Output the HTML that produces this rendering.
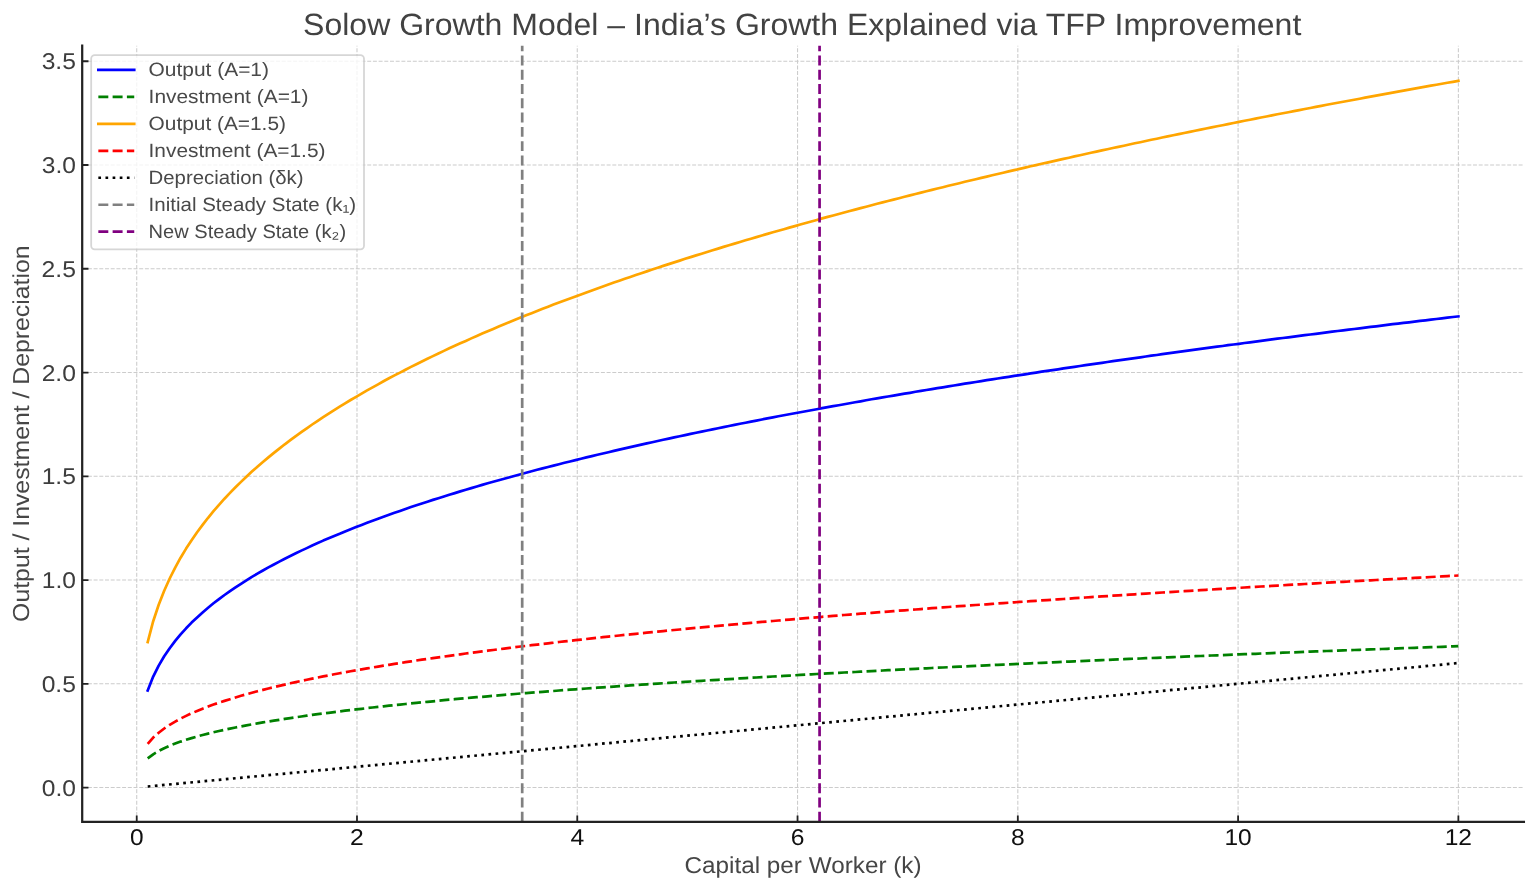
<!DOCTYPE html>
<html><head><meta charset="utf-8"><title>Solow Growth Model</title>
<style>html,body{margin:0;padding:0;background:#fff;width:1536px;height:891px;overflow:hidden}svg{display:block;will-change:transform}</style>
</head><body>
<svg width="1536" height="891" viewBox="0 0 1536 891">
<rect width="1536" height="891" fill="#fff"/>
<defs><clipPath id="ax"><rect x="82.2" y="45.5" width="1441.7" height="776.3"/></clipPath></defs>
<path d="M136.72 821.8V45.5M356.99 821.8V45.5M577.27 821.8V45.5M797.54 821.8V45.5M1017.82 821.8V45.5M1238.09 821.8V45.5M1458.37 821.8V45.5M82.2 787.55H1523.9M82.2 683.79H1523.9M82.2 580.03H1523.9M82.2 476.28H1523.9M82.2 372.52H1523.9M82.2 268.76H1523.9M82.2 165H1523.9M82.2 61.24H1523.9" fill="none" stroke="#cccccc" stroke-width="1.08" stroke-dasharray="3.98 1.72" clip-path="url(#ax)"/>
<path d="M136.72 821.8v-6.28M356.99 821.8v-6.28M577.27 821.8v-6.28M797.54 821.8v-6.28M1017.82 821.8v-6.28M1238.09 821.8v-6.28M1458.37 821.8v-6.28M82.2 787.55h6.28M82.2 683.79h6.28M82.2 580.03h6.28M82.2 476.28h6.28M82.2 372.52h6.28M82.2 268.76h6.28M82.2 165h6.28M82.2 61.24h6.28" fill="none" stroke="#222222" stroke-width="1.79"/>
<g fill="none" stroke-width="2.69" clip-path="url(#ax)">
<path d="M147.7 690.5 153.2 676.6 158.7 665.6 164.2 656.3 169.7 648.2 175.2 640.9 180.6 634.3 186.1 628.3 191.6 622.6 197.1 617.4 202.6 612.4 208.1 607.7 213.5 603.3 219.0 599.1 224.5 595.0 230.0 591.1 235.5 587.4 241.0 583.8 246.4 580.3 251.9 576.9 257.4 573.7 262.9 570.5 268.4 567.4 273.9 564.5 279.3 561.6 284.8 558.7 290.3 556.0 295.8 553.3 301.3 550.6 306.8 548.1 312.2 545.5 317.7 543.1 323.2 540.6 328.7 538.3 334.2 535.9 339.7 533.7 345.1 531.4 350.6 529.2 356.1 527.0 361.6 524.9 367.1 522.8 372.6 520.8 378.1 518.7 383.5 516.7 389.0 514.7 394.5 512.8 400.0 510.9 405.5 509.0 411.0 507.1 416.4 505.3 421.9 503.5 427.4 501.7 432.9 499.9 438.4 498.2 443.9 496.5 449.3 494.7 454.8 493.1 460.3 491.4 465.8 489.8 471.3 488.1 476.8 486.5 482.2 484.9 487.7 483.3 493.2 481.8 498.7 480.2 504.2 478.7 509.7 477.2 515.1 475.7 520.6 474.2 526.1 472.7 531.6 471.3 537.1 469.8 542.6 468.4 548.1 467.0 553.5 465.6 559.0 464.2 564.5 462.8 570.0 461.5 575.5 460.1 581.0 458.8 586.4 457.4 591.9 456.1 597.4 454.8 602.9 453.5 608.4 452.2 613.9 450.9 619.3 449.6 624.8 448.4 630.3 447.1 635.8 445.9 641.3 444.6 646.8 443.4 652.2 442.2 657.7 441.0 663.2 439.8 668.7 438.6 674.2 437.4 679.7 436.2 685.1 435.1 690.6 433.9 696.1 432.8 701.6 431.6 707.1 430.5 712.6 429.4 718.1 428.2 723.5 427.1 729.0 426.0 734.5 424.9 740.0 423.8 745.5 422.7 751.0 421.6 756.4 420.6 761.9 419.5 767.4 418.4 772.9 417.4 778.4 416.3 783.9 415.3 789.3 414.3 794.8 413.2 800.3 412.2 805.8 411.2 811.3 410.2 816.8 409.2 822.2 408.1 827.7 407.1 833.2 406.2 838.7 405.2 844.2 404.2 849.7 403.2 855.1 402.2 860.6 401.3 866.1 400.3 871.6 399.3 877.1 398.4 882.6 397.4 888.0 396.5 893.5 395.6 899.0 394.6 904.5 393.7 910.0 392.8 915.5 391.8 921.0 390.9 926.4 390.0 931.9 389.1 937.4 388.2 942.9 387.3 948.4 386.4 953.9 385.5 959.3 384.6 964.8 383.7 970.3 382.9 975.8 382.0 981.3 381.1 986.8 380.2 992.2 379.4 997.7 378.5 1003.2 377.7 1008.7 376.8 1014.2 375.9 1019.7 375.1 1025.1 374.3 1030.6 373.4 1036.1 372.6 1041.6 371.7 1047.1 370.9 1052.6 370.1 1058.0 369.3 1063.5 368.4 1069.0 367.6 1074.5 366.8 1080.0 366.0 1085.5 365.2 1091.0 364.4 1096.4 363.6 1101.9 362.8 1107.4 362.0 1112.9 361.2 1118.4 360.4 1123.9 359.6 1129.3 358.9 1134.8 358.1 1140.3 357.3 1145.8 356.5 1151.3 355.7 1156.8 355.0 1162.2 354.2 1167.7 353.4 1173.2 352.7 1178.7 351.9 1184.2 351.2 1189.7 350.4 1195.1 349.7 1200.6 348.9 1206.1 348.2 1211.6 347.4 1217.1 346.7 1222.6 346.0 1228.0 345.2 1233.5 344.5 1239.0 343.8 1244.5 343.0 1250.0 342.3 1255.5 341.6 1261.0 340.9 1266.4 340.2 1271.9 339.4 1277.4 338.7 1282.9 338.0 1288.4 337.3 1293.9 336.6 1299.3 335.9 1304.8 335.2 1310.3 334.5 1315.8 333.8 1321.3 333.1 1326.8 332.4 1332.2 331.7 1337.7 331.0 1343.2 330.3 1348.7 329.7 1354.2 329.0 1359.7 328.3 1365.1 327.6 1370.6 326.9 1376.1 326.3 1381.6 325.6 1387.1 324.9 1392.6 324.2 1398.0 323.6 1403.5 322.9 1409.0 322.3 1414.5 321.6 1420.0 320.9 1425.5 320.3 1430.9 319.6 1436.4 319.0 1441.9 318.3 1447.4 317.7 1452.9 317.0 1458.4 316.4" stroke="#0000ff" stroke-linecap="square" stroke-linejoin="round"/>
<path d="M147.7 758.4 153.2 754.3 158.7 751.0 164.2 748.2 169.7 745.7 175.2 743.6 180.6 741.6 186.1 739.8 191.6 738.1 197.1 736.5 202.6 735.0 208.1 733.6 213.5 732.3 219.0 731.0 224.5 729.8 230.0 728.6 235.5 727.5 241.0 726.4 246.4 725.4 251.9 724.4 257.4 723.4 262.9 722.4 268.4 721.5 273.9 720.6 279.3 719.8 284.8 718.9 290.3 718.1 295.8 717.3 301.3 716.5 306.8 715.7 312.2 714.9 317.7 714.2 323.2 713.5 328.7 712.8 334.2 712.1 339.7 711.4 345.1 710.7 350.6 710.0 356.1 709.4 361.6 708.8 367.1 708.1 372.6 707.5 378.1 706.9 383.5 706.3 389.0 705.7 394.5 705.1 400.0 704.6 405.5 704.0 411.0 703.4 416.4 702.9 421.9 702.3 427.4 701.8 432.9 701.3 438.4 700.7 443.9 700.2 449.3 699.7 454.8 699.2 460.3 698.7 465.8 698.2 471.3 697.7 476.8 697.2 482.2 696.8 487.7 696.3 493.2 695.8 498.7 695.4 504.2 694.9 509.7 694.4 515.1 694.0 520.6 693.5 526.1 693.1 531.6 692.7 537.1 692.2 542.6 691.8 548.1 691.4 553.5 691.0 559.0 690.5 564.5 690.1 570.0 689.7 575.5 689.3 581.0 688.9 586.4 688.5 591.9 688.1 597.4 687.7 602.9 687.3 608.4 686.9 613.9 686.6 619.3 686.2 624.8 685.8 630.3 685.4 635.8 685.0 641.3 684.7 646.8 684.3 652.2 683.9 657.7 683.6 663.2 683.2 668.7 682.9 674.2 682.5 679.7 682.2 685.1 681.8 690.6 681.5 696.1 681.1 701.6 680.8 707.1 680.4 712.6 680.1 718.1 679.8 723.5 679.4 729.0 679.1 734.5 678.8 740.0 678.4 745.5 678.1 751.0 677.8 756.4 677.5 761.9 677.1 767.4 676.8 772.9 676.5 778.4 676.2 783.9 675.9 789.3 675.6 794.8 675.3 800.3 674.9 805.8 674.6 811.3 674.3 816.8 674.0 822.2 673.7 827.7 673.4 833.2 673.1 838.7 672.8 844.2 672.5 849.7 672.2 855.1 672.0 860.6 671.7 866.1 671.4 871.6 671.1 877.1 670.8 882.6 670.5 888.0 670.2 893.5 670.0 899.0 669.7 904.5 669.4 910.0 669.1 915.5 668.8 921.0 668.6 926.4 668.3 931.9 668.0 937.4 667.7 942.9 667.5 948.4 667.2 953.9 666.9 959.3 666.7 964.8 666.4 970.3 666.1 975.8 665.9 981.3 665.6 986.8 665.4 992.2 665.1 997.7 664.8 1003.2 664.6 1008.7 664.3 1014.2 664.1 1019.7 663.8 1025.1 663.6 1030.6 663.3 1036.1 663.1 1041.6 662.8 1047.1 662.6 1052.6 662.3 1058.0 662.1 1063.5 661.8 1069.0 661.6 1074.5 661.3 1080.0 661.1 1085.5 660.8 1091.0 660.6 1096.4 660.4 1101.9 660.1 1107.4 659.9 1112.9 659.6 1118.4 659.4 1123.9 659.2 1129.3 658.9 1134.8 658.7 1140.3 658.5 1145.8 658.2 1151.3 658.0 1156.8 657.8 1162.2 657.5 1167.7 657.3 1173.2 657.1 1178.7 656.9 1184.2 656.6 1189.7 656.4 1195.1 656.2 1200.6 656.0 1206.1 655.7 1211.6 655.5 1217.1 655.3 1222.6 655.1 1228.0 654.9 1233.5 654.6 1239.0 654.4 1244.5 654.2 1250.0 654.0 1255.5 653.8 1261.0 653.5 1266.4 653.3 1271.9 653.1 1277.4 652.9 1282.9 652.7 1288.4 652.5 1293.9 652.3 1299.3 652.1 1304.8 651.8 1310.3 651.6 1315.8 651.4 1321.3 651.2 1326.8 651.0 1332.2 650.8 1337.7 650.6 1343.2 650.4 1348.7 650.2 1354.2 650.0 1359.7 649.8 1365.1 649.6 1370.6 649.4 1376.1 649.2 1381.6 649.0 1387.1 648.8 1392.6 648.6 1398.0 648.4 1403.5 648.2 1409.0 648.0 1414.5 647.8 1420.0 647.6 1425.5 647.4 1430.9 647.2 1436.4 647.0 1441.9 646.8 1447.4 646.6 1452.9 646.4 1458.4 646.2" stroke="#008000" stroke-dasharray="9.96 4.31" stroke-linejoin="round"/>
<path d="M147.7 642.0 153.2 621.2 158.7 604.7 164.2 590.7 169.7 578.5 175.2 567.6 180.6 557.7 186.1 548.6 191.6 540.2 197.1 532.3 202.6 524.9 208.1 517.8 213.5 511.2 219.0 504.8 224.5 498.7 230.0 492.9 235.5 487.3 241.0 481.9 246.4 476.7 251.9 471.6 257.4 466.7 262.9 462.0 268.4 457.4 273.9 452.9 279.3 448.6 284.8 444.3 290.3 440.2 295.8 436.1 301.3 432.2 306.8 428.3 312.2 424.5 317.7 420.8 323.2 417.2 328.7 413.6 334.2 410.1 339.7 406.7 345.1 403.3 350.6 400.0 356.1 396.8 361.6 393.6 367.1 390.4 372.6 387.4 378.1 384.3 383.5 381.3 389.0 378.3 394.5 375.4 400.0 372.6 405.5 369.7 411.0 366.9 416.4 364.2 421.9 361.5 427.4 358.8 432.9 356.1 438.4 353.5 443.9 350.9 449.3 348.3 454.8 345.8 460.3 343.3 465.8 340.9 471.3 338.4 476.8 336.0 482.2 333.6 487.7 331.2 493.2 328.9 498.7 326.6 504.2 324.3 509.7 322.0 515.1 319.8 520.6 317.5 526.1 315.3 531.6 313.2 537.1 311.0 542.6 308.8 548.1 306.7 553.5 304.6 559.0 302.5 564.5 300.5 570.0 298.4 575.5 296.4 581.0 294.4 586.4 292.4 591.9 290.4 597.4 288.4 602.9 286.4 608.4 284.5 613.9 282.6 619.3 280.7 624.8 278.8 630.3 276.9 635.8 275.0 641.3 273.2 646.8 271.4 652.2 269.5 657.7 267.7 663.2 265.9 668.7 264.1 674.2 262.4 679.7 260.6 685.1 258.8 690.6 257.1 696.1 255.4 701.6 253.7 707.1 252.0 712.6 250.3 718.1 248.6 723.5 246.9 729.0 245.2 734.5 243.6 740.0 242.0 745.5 240.3 751.0 238.7 756.4 237.1 761.9 235.5 767.4 233.9 772.9 232.3 778.4 230.7 783.9 229.2 789.3 227.6 794.8 226.1 800.3 224.5 805.8 223.0 811.3 221.5 816.8 220.0 822.2 218.4 827.7 216.9 833.2 215.5 838.7 214.0 844.2 212.5 849.7 211.0 855.1 209.6 860.6 208.1 866.1 206.7 871.6 205.2 877.1 203.8 882.6 202.4 888.0 201.0 893.5 199.6 899.0 198.2 904.5 196.8 910.0 195.4 915.5 194.0 921.0 192.6 926.4 191.2 931.9 189.9 937.4 188.5 942.9 187.2 948.4 185.8 953.9 184.5 959.3 183.2 964.8 181.8 970.3 180.5 975.8 179.2 981.3 177.9 986.8 176.6 992.2 175.3 997.7 174.0 1003.2 172.7 1008.7 171.4 1014.2 170.1 1019.7 168.9 1025.1 167.6 1030.6 166.3 1036.1 165.1 1041.6 163.8 1047.1 162.6 1052.6 161.4 1058.0 160.1 1063.5 158.9 1069.0 157.7 1074.5 156.4 1080.0 155.2 1085.5 154.0 1091.0 152.8 1096.4 151.6 1101.9 150.4 1107.4 149.2 1112.9 148.0 1118.4 146.9 1123.9 145.7 1129.3 144.5 1134.8 143.3 1140.3 142.2 1145.8 141.0 1151.3 139.8 1156.8 138.7 1162.2 137.5 1167.7 136.4 1173.2 135.3 1178.7 134.1 1184.2 133.0 1189.7 131.9 1195.1 130.7 1200.6 129.6 1206.1 128.5 1211.6 127.4 1217.1 126.3 1222.6 125.2 1228.0 124.1 1233.5 123.0 1239.0 121.9 1244.5 120.8 1250.0 119.7 1255.5 118.6 1261.0 117.5 1266.4 116.5 1271.9 115.4 1277.4 114.3 1282.9 113.2 1288.4 112.2 1293.9 111.1 1299.3 110.1 1304.8 109.0 1310.3 108.0 1315.8 106.9 1321.3 105.9 1326.8 104.8 1332.2 103.8 1337.7 102.8 1343.2 101.7 1348.7 100.7 1354.2 99.7 1359.7 98.7 1365.1 97.6 1370.6 96.6 1376.1 95.6 1381.6 94.6 1387.1 93.6 1392.6 92.6 1398.0 91.6 1403.5 90.6 1409.0 89.6 1414.5 88.6 1420.0 87.6 1425.5 86.6 1430.9 85.7 1436.4 84.7 1441.9 83.7 1447.4 82.7 1452.9 81.8 1458.4 80.8" stroke="#ffa500" stroke-linecap="square" stroke-linejoin="round"/>
<path d="M147.7 743.9 153.2 737.6 158.7 732.7 164.2 728.5 169.7 724.8 175.2 721.6 180.6 718.6 186.1 715.9 191.6 713.3 197.1 711.0 202.6 708.7 208.1 706.6 213.5 704.6 219.0 702.7 224.5 700.9 230.0 699.2 235.5 697.5 241.0 695.8 246.4 694.3 251.9 692.8 257.4 691.3 262.9 689.9 268.4 688.5 273.9 687.2 279.3 685.9 284.8 684.6 290.3 683.3 295.8 682.1 301.3 680.9 306.8 679.8 312.2 678.6 317.7 677.5 323.2 676.4 328.7 675.4 334.2 674.3 339.7 673.3 345.1 672.3 350.6 671.3 356.1 670.3 361.6 669.4 367.1 668.4 372.6 667.5 378.1 666.6 383.5 665.7 389.0 664.8 394.5 663.9 400.0 663.1 405.5 662.2 411.0 661.4 416.4 660.5 421.9 659.7 427.4 658.9 432.9 658.1 438.4 657.3 443.9 656.6 449.3 655.8 454.8 655.0 460.3 654.3 465.8 653.5 471.3 652.8 476.8 652.1 482.2 651.4 487.7 650.7 493.2 650.0 498.7 649.3 504.2 648.6 509.7 647.9 515.1 647.2 520.6 646.5 526.1 645.9 531.6 645.2 537.1 644.6 542.6 643.9 548.1 643.3 553.5 642.7 559.0 642.0 564.5 641.4 570.0 640.8 575.5 640.2 581.0 639.6 586.4 639.0 591.9 638.4 597.4 637.8 602.9 637.2 608.4 636.6 613.9 636.1 619.3 635.5 624.8 634.9 630.3 634.4 635.8 633.8 641.3 633.2 646.8 632.7 652.2 632.1 657.7 631.6 663.2 631.1 668.7 630.5 674.2 630.0 679.7 629.5 685.1 628.9 690.6 628.4 696.1 627.9 701.6 627.4 707.1 626.9 712.6 626.4 718.1 625.9 723.5 625.4 729.0 624.9 734.5 624.4 740.0 623.9 745.5 623.4 751.0 622.9 756.4 622.4 761.9 621.9 767.4 621.5 772.9 621.0 778.4 620.5 783.9 620.0 789.3 619.6 794.8 619.1 800.3 618.6 805.8 618.2 811.3 617.7 816.8 617.3 822.2 616.8 827.7 616.4 833.2 615.9 838.7 615.5 844.2 615.0 849.7 614.6 855.1 614.2 860.6 613.7 866.1 613.3 871.6 612.9 877.1 612.4 882.6 612.0 888.0 611.6 893.5 611.2 899.0 610.7 904.5 610.3 910.0 609.9 915.5 609.5 921.0 609.1 926.4 608.7 931.9 608.2 937.4 607.8 942.9 607.4 948.4 607.0 953.9 606.6 959.3 606.2 964.8 605.8 970.3 605.4 975.8 605.0 981.3 604.7 986.8 604.3 992.2 603.9 997.7 603.5 1003.2 603.1 1008.7 602.7 1014.2 602.3 1019.7 601.9 1025.1 601.6 1030.6 601.2 1036.1 600.8 1041.6 600.4 1047.1 600.1 1052.6 599.7 1058.0 599.3 1063.5 599.0 1069.0 598.6 1074.5 598.2 1080.0 597.9 1085.5 597.5 1091.0 597.1 1096.4 596.8 1101.9 596.4 1107.4 596.1 1112.9 595.7 1118.4 595.3 1123.9 595.0 1129.3 594.6 1134.8 594.3 1140.3 593.9 1145.8 593.6 1151.3 593.2 1156.8 592.9 1162.2 592.5 1167.7 592.2 1173.2 591.9 1178.7 591.5 1184.2 591.2 1189.7 590.8 1195.1 590.5 1200.6 590.2 1206.1 589.8 1211.6 589.5 1217.1 589.2 1222.6 588.8 1228.0 588.5 1233.5 588.2 1239.0 587.8 1244.5 587.5 1250.0 587.2 1255.5 586.9 1261.0 586.5 1266.4 586.2 1271.9 585.9 1277.4 585.6 1282.9 585.3 1288.4 584.9 1293.9 584.6 1299.3 584.3 1304.8 584.0 1310.3 583.7 1315.8 583.4 1321.3 583.0 1326.8 582.7 1332.2 582.4 1337.7 582.1 1343.2 581.8 1348.7 581.5 1354.2 581.2 1359.7 580.9 1365.1 580.6 1370.6 580.3 1376.1 580.0 1381.6 579.7 1387.1 579.4 1392.6 579.1 1398.0 578.8 1403.5 578.5 1409.0 578.2 1414.5 577.9 1420.0 577.6 1425.5 577.3 1430.9 577.0 1436.4 576.7 1441.9 576.4 1447.4 576.1 1452.9 575.8 1458.4 575.5" stroke="#ff0000" stroke-dasharray="9.96 4.31" stroke-linejoin="round"/>
<path d="M147.73 786.51L1458.37 663.04" stroke="#000000" stroke-dasharray="2.69 4.44"/>
<path d="M522.2 821.8V45.5" stroke="#808080" stroke-dasharray="9.96 4.31"/>
<path d="M819.57 821.8V45.5" stroke="#800080" stroke-dasharray="9.96 4.31"/>
</g>
<path d="M82.2 821.8V45.5M82.2 821.8H1523.9" fill="none" stroke="#222222" stroke-width="2.24" stroke-linecap="square"/>
<g font-family="Liberation Sans, sans-serif" text-rendering="geometricPrecision">
<text x="136.72" y="845.04" font-size="22.83" text-anchor="middle" fill="#101010" textLength="13.62" lengthAdjust="spacingAndGlyphs" >0</text>
<text x="356.99" y="845.04" font-size="22.83" text-anchor="middle" fill="#101010" textLength="13.75" lengthAdjust="spacingAndGlyphs" >2</text>
<text x="577.27" y="845.04" font-size="22.83" text-anchor="middle" fill="#101010" textLength="13.75" lengthAdjust="spacingAndGlyphs" >4</text>
<text x="797.54" y="845.04" font-size="22.83" text-anchor="middle" fill="#101010" textLength="13.75" lengthAdjust="spacingAndGlyphs" >6</text>
<text x="1017.82" y="845.04" font-size="22.83" text-anchor="middle" fill="#101010" textLength="13.75" lengthAdjust="spacingAndGlyphs" >8</text>
<text x="1238.09" y="845.04" font-size="22.83" text-anchor="middle" fill="#101010" textLength="27.25" lengthAdjust="spacingAndGlyphs" >10</text>
<text x="1458.37" y="845.04" font-size="22.83" text-anchor="middle" fill="#101010" textLength="27.38" lengthAdjust="spacingAndGlyphs" >12</text>
<text x="75.92" y="795.73" font-size="22.83" text-anchor="end" fill="#3d3d3d" textLength="34.12" lengthAdjust="spacingAndGlyphs" >0.0</text>
<text x="75.92" y="691.97" font-size="22.83" text-anchor="end" fill="#3d3d3d" textLength="34.25" lengthAdjust="spacingAndGlyphs" >0.5</text>
<text x="75.92" y="588.22" font-size="22.83" text-anchor="end" fill="#3d3d3d" textLength="34.12" lengthAdjust="spacingAndGlyphs" >1.0</text>
<text x="75.92" y="484.46" font-size="22.83" text-anchor="end" fill="#3d3d3d" textLength="34.25" lengthAdjust="spacingAndGlyphs" >1.5</text>
<text x="75.92" y="380.7" font-size="22.83" text-anchor="end" fill="#3d3d3d" textLength="34.25" lengthAdjust="spacingAndGlyphs" >2.0</text>
<text x="75.92" y="276.94" font-size="22.83" text-anchor="end" fill="#3d3d3d" textLength="34.38" lengthAdjust="spacingAndGlyphs" >2.5</text>
<text x="75.92" y="173.18" font-size="22.83" text-anchor="end" fill="#3d3d3d" textLength="34.12" lengthAdjust="spacingAndGlyphs" >3.0</text>
<text x="75.92" y="69.42" font-size="22.83" text-anchor="end" fill="#3d3d3d" textLength="34.25" lengthAdjust="spacingAndGlyphs" >3.5</text>
<text x="802.2" y="34.53" font-size="30.72" text-anchor="middle" fill="#424242" textLength="998.25" lengthAdjust="spacingAndGlyphs" >Solow Growth Model – India’s Growth Explained via TFP Improvement</text>
<text x="803.05" y="872.91" font-size="23.08" text-anchor="middle" fill="#464646" textLength="237" lengthAdjust="spacingAndGlyphs" >Capital per Worker (k)</text>
<text x="28.92" y="433.65" font-size="23.08" text-anchor="middle" fill="#464646" textLength="376.5" lengthAdjust="spacingAndGlyphs" transform="rotate(-90 28.92 433.65)">Output / Investment / Depreciation</text>
</g>
<rect x="91.17" y="55.1" width="272.83" height="194.3" rx="3.59" fill="#ffffff" stroke="#cccccc" stroke-width="1.79" opacity="0.8"/>
<g font-family="Liberation Sans, sans-serif" text-rendering="geometricPrecision">
<path d="M98.35 69.87H134.24" stroke="#0000ff" stroke-width="2.69" stroke-linecap="square"/>
<text x="148.59" y="75.9" font-size="19.2" text-anchor="start" fill="#494949" textLength="120.38" lengthAdjust="spacingAndGlyphs" >Output (A=1)</text>
<path d="M98.35 96.84H134.24" stroke="#008000" stroke-width="2.69" stroke-linecap="butt" stroke-dasharray="9.96 4.31"/>
<text x="148.59" y="102.87" font-size="19.2" text-anchor="start" fill="#494949" textLength="159.88" lengthAdjust="spacingAndGlyphs" >Investment (A=1)</text>
<path d="M98.35 123.81H134.24" stroke="#ffa500" stroke-width="2.69" stroke-linecap="square"/>
<text x="148.59" y="129.84" font-size="19.2" text-anchor="start" fill="#494949" textLength="137.38" lengthAdjust="spacingAndGlyphs" >Output (A=1.5)</text>
<path d="M98.35 150.79H134.24" stroke="#ff0000" stroke-width="2.69" stroke-linecap="butt" stroke-dasharray="9.96 4.31"/>
<text x="148.59" y="156.82" font-size="19.2" text-anchor="start" fill="#494949" textLength="176.88" lengthAdjust="spacingAndGlyphs" >Investment (A=1.5)</text>
<path d="M98.35 177.76H134.24" stroke="#000000" stroke-width="2.69" stroke-linecap="butt" stroke-dasharray="2.69 4.44"/>
<text x="148.59" y="183.79" font-size="19.2" text-anchor="start" fill="#494949" textLength="155" lengthAdjust="spacingAndGlyphs" >Depreciation (δk)</text>
<path d="M98.35 204.73H134.24" stroke="#808080" stroke-width="2.69" stroke-linecap="butt" stroke-dasharray="9.96 4.31"/>
<text x="148.59" y="210.76" font-size="19.2" text-anchor="start" fill="#494949" textLength="207.62" lengthAdjust="spacingAndGlyphs" >Initial Steady State (k₁)</text>
<path d="M98.35 231.7H134.24" stroke="#800080" stroke-width="2.69" stroke-linecap="butt" stroke-dasharray="9.96 4.31"/>
<text x="148.59" y="237.73" font-size="19.2" text-anchor="start" fill="#494949" textLength="197.5" lengthAdjust="spacingAndGlyphs" >New Steady State (k₂)</text>
</g>
</svg>
</body></html>
